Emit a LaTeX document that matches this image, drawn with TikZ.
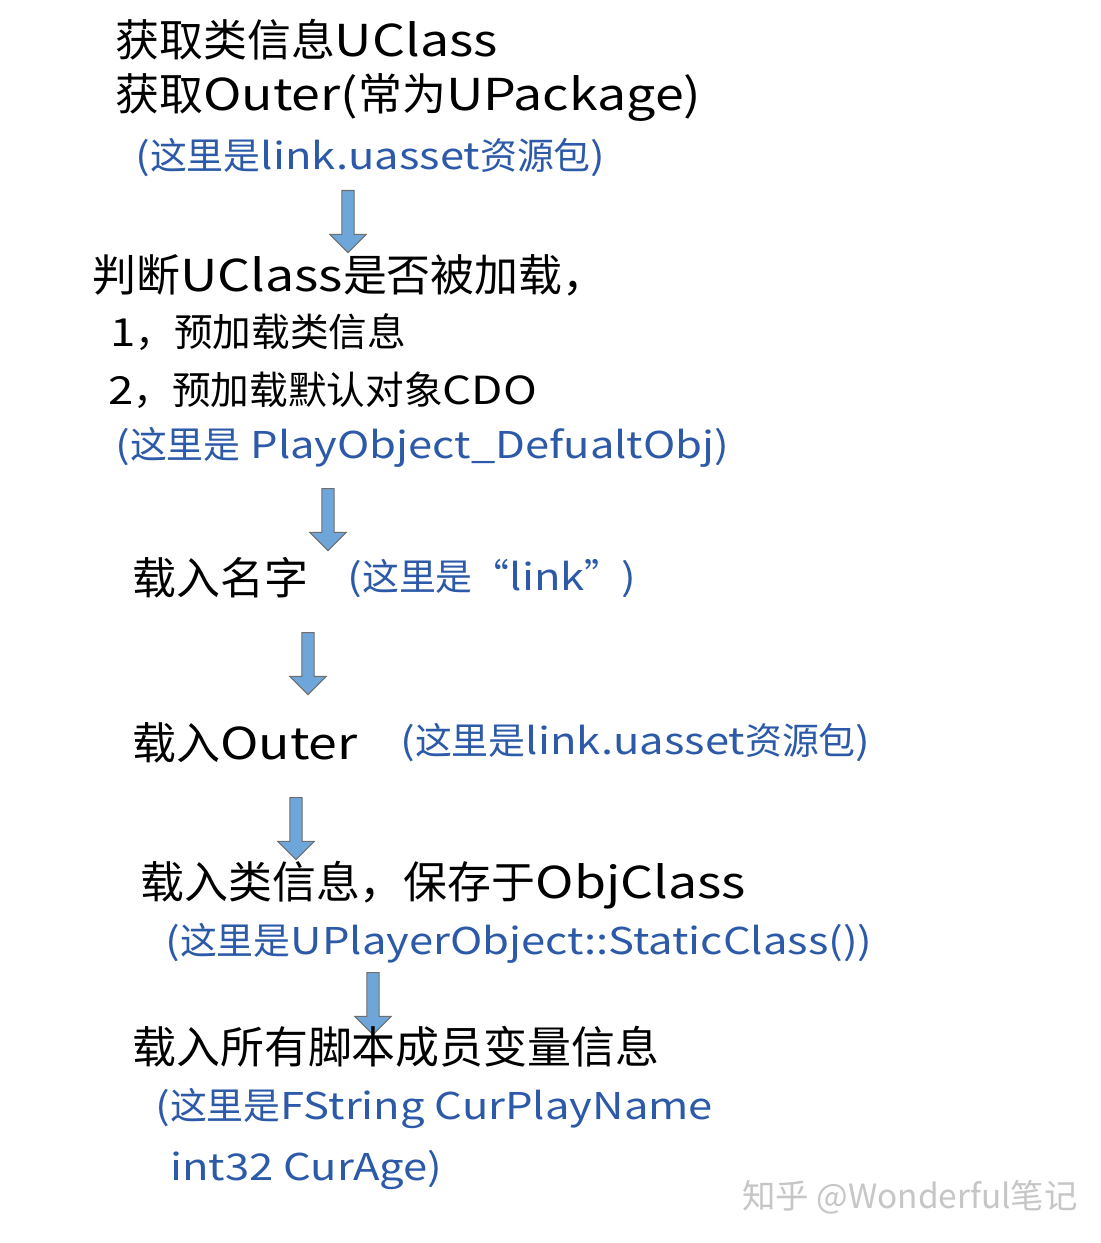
\documentclass[tikz,border=0pt]{standalone}
\usepackage{fontspec}
\setmainfont{Noto Sans CJK SC}
\newfontfamily\widelatin[FakeStretch=1.18]{Noto Sans CJK SC}
\newcommand{\lat}[1]{{\widelatin #1}}
\usepackage{tikz}
\usetikzlibrary{positioning,shapes.arrows}
\definecolor{noteblue}{HTML}{2C5AA8}
\definecolor{arrowfill}{HTML}{6FA6DA}
\definecolor{arrowline}{HTML}{6E6E6E}
\tikzset{%
	step text/.style={%
		anchor=west,
		inner sep=0pt,
		font=\fontsize{25}{28}\selectfont
	},
	sub text/.style={%
		step text,
		font=\fontsize{22}{26}\selectfont
	},
	note/.style={%
		anchor=west,
		inner sep=0pt,
		text=noteblue,
		font=\fontsize{21}{25}\selectfont
	},
	down arrow/.style={%
		single arrow,
		draw=arrowline,
		fill=arrowfill,
		line width=0.6pt,
		inner sep=3.2pt,
		single arrow head extend=0.24cm,
		minimum height=1.24cm,
		rotate=-90,
		anchor=tail
	}
}

\begin{document}
\begin{tikzpicture}[x=0.02cm, y=-0.02cm]
        \useasboundingbox[fill=white] (0,0) rectangle (1100,1243);
        % first step
        \node [step text] (uclass) at (115,40) {获取类信息\lat{UClass}};
        \node [step text] (outer) at (115,98) {获取\lat{Outer(}常为\lat{UPackage)}};
        \node [note] (pkg) at (135,158) {\lat{(}这里是\lat{link.uasset}资源包\lat{)}};
        \node [down arrow] (a1) at (348,190) {};
        % second step
        \node [step text] (check) at (92,275) {判断\lat{UClass}是否被加载，};
        \node [sub text] (pre1) at (110,332) {\lat{1}，预加载类信息};
        \node [sub text] (pre2) at (108,390) {\lat{2}，预加载默认对象\lat{CDO}};
        \node [note] (cdo) at (115,447) {\lat{(}这里是\lat{ PlayObject\_DefualtObj)}};
        \node [down arrow] (a2) at (328,488) {};
        % name
        \node [step text] (name) at (132,578) {载入名字};
        \node [note, right=22pt of name] (linkname) {\lat{(}这里是“\lat{link}”\lat{)}};
        \node [down arrow] (a3) at (308,632) {};
        % outer
        \node [step text] (loadouter) at (132,743) {载入\lat{Outer}};
        \node [note] (pkg2) at (400,743) {\lat{(}这里是\lat{link.uasset}资源包\lat{)}};
        \node [down arrow] (a4) at (296,797) {};
        % class
        \node [step text] (cls) at (140,885) {载入类信息，保存于\lat{ObjClass}};
        \node [note] (static) at (165,943) {\lat{(}这里是\lat{UPlayerObject::StaticClass())}};
        \node [down arrow] (a5) at (373,972) {};
        % members
        \node [step text] (members) at (132,1047) {载入所有脚本成员变量信息};
        \node [note] (fstr) at (155,1108) {\lat{(}这里是\lat{FString CurPlayName}};
        \node [note] (age) at (170,1170) {\lat{int32 CurAge)}};
        % watermark
        \node [anchor=west, inner sep=0pt, text=gray!45, font=\fontsize{19}{22}\selectfont] (mark) at (742,1197) {知乎 @Wonderful笔记};
    \end{tikzpicture}
\end{document}
